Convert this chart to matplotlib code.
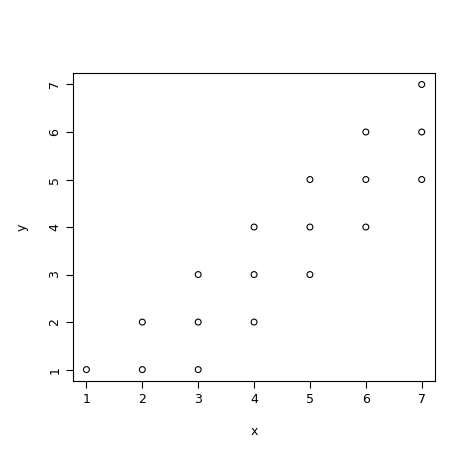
import matplotlib.pyplot as plt

x = [1, 2, 2, 3, 3, 3, 4, 4, 4, 5, 5, 5, 6, 6, 6, 7, 7, 7]
y = [1, 1, 2, 1, 2, 3, 2, 3, 4, 3, 4, 5, 4, 5, 6, 5, 6, 7]
ticks = [1, 2, 3, 4, 5, 6, 7]

fig = plt.figure(figsize=(4.74, 4.73), dpi=100)
ax = fig.add_axes([0.154, 0.1945, 0.764, 0.651])
ax.scatter(x, y, s=18, facecolors="none", edgecolors="black", linewidths=0.8)
ax.set_xlim(0.76, 7.24)
ax.set_ylim(0.76, 7.24)
ax.set_xticks(ticks)
ax.set_yticks(ticks)
ax.tick_params(labelsize=9, length=5)
plt.setp(ax.get_yticklabels(), rotation=90, va="center")
ax.set_xlabel("x", fontsize=9, labelpad=14)
ax.set_ylabel("y", fontsize=9, labelpad=14)
fig.savefig("out.png")
